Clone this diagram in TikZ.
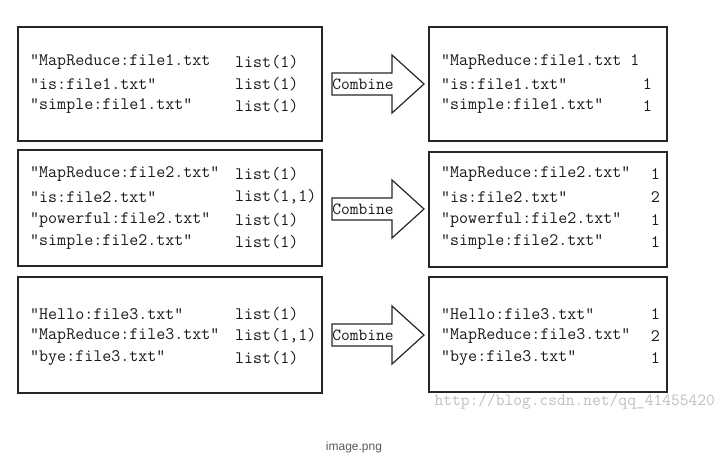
\documentclass[tikz,border=0pt]{standalone}
\usepackage{fontspec}
\setmainfont{Liberation Serif}
\newfontfamily\monof{Latin Modern Mono}
\newfontfamily\sansf{Liberation Sans}
\usetikzlibrary{shapes.arrows}
\begin{document}
\begin{tikzpicture}[x=1pt,y=-1pt,
  box/.style={draw=black!85,line width=1.6pt},
  txt/.style={anchor=west,inner sep=0pt,font=\monof\fontsize{17.5}{20}\selectfont,text=black!90},
  num/.style={anchor=east,inner sep=0pt,font=\monof\fontsize{17.5}{20}\selectfont,text=black!90},
  arr/.style={draw=black!85,line width=1.2pt,fill=white}]
\useasboundingbox (0,0) rectangle (718,467);
% boxes
\draw[box] (18,27) rectangle (322,141) coordinate (L1);
\draw[box] (18,150) rectangle (322,266) coordinate (L2);
\draw[box] (18,277) rectangle (322,393) coordinate (L3);
\draw[box] (429,27) rectangle (667,141) coordinate (R1);
\draw[box] (429,152) rectangle (667,267) coordinate (R2);
\draw[box] (429,277) rectangle (667,392) coordinate (R3);
% arrows
\foreach \c/\n in {84/a1,209/a2,335/a3}{
  \draw[arr] (332,\c-11) -- (392,\c-11) -- (392,\c-29) -- (424,\c) -- (392,\c+29) -- (392,\c+11) -- (332,\c+11) -- cycle;
  \node[font=\monof\fontsize{17}{18}\selectfont,text=black!90,inner sep=0pt] (\n) at (363,\c) {Combine};
}
% row1
\node[txt] (t11) at (30,62) {“MapReduce:file1.txt};
\node[txt] (t12) at (30,84) {“is:file1.txt”};
\node[txt] (t13) at (30,106) {“simple:file1.txt”};
\foreach \y/\n in {62/l11,84/l12,106/l13} \node[txt] (\n) at (235,\y) {list(1)};
\node[txt] (r11) at (441,62) {“MapReduce:file1.txt 1};
\node[txt] (r12) at (441,84) {“is:file1.txt”};
\node[txt] (r13) at (441,106) {“simple:file1.txt”};
\node[num] (n12) at (652,84) {1};
\node[num] (n13) at (652,106) {1};
% row2
\node[txt] (t21) at (30,174) {“MapReduce:file2.txt”};
\node[txt] (t22) at (30,197) {“is:file2.txt”};
\node[txt] (t23) at (30,220) {“powerful:file2.txt”};
\node[txt] (t24) at (30,242) {“simple:file2.txt”};
\node[txt] (l21) at (235,174) {list(1)};
\node[txt] (l22) at (235,197) {list(1,1)};
\node[txt] (l23) at (235,220) {list(1)};
\node[txt] (l24) at (235,242) {list(1)};
\node[txt] (r21) at (441,174) {“MapReduce:file2.txt”};
\node[txt] (r22) at (441,197) {“is:file2.txt”};
\node[txt] (r23) at (441,220) {“powerful:file2.txt”};
\node[txt] (r24) at (441,242) {“simple:file2.txt”};
\node[num] (n21) at (660,174) {1};
\node[num] (n22) at (660,197) {2};
\node[num] (n23) at (660,220) {1};
\node[num] (n24) at (660,242) {1};
% row3
\node[txt] (t31) at (30,314) {“Hello:file3.txt”};
\node[txt] (t32) at (30,336) {“MapReduce:file3.txt”};
\node[txt] (t33) at (30,358) {“bye:file3.txt”};
\node[txt] (l31) at (235,314) {list(1)};
\node[txt] (l32) at (235,336) {list(1,1)};
\node[txt] (l33) at (235,358) {list(1)};
\node[txt] (r31) at (441,314) {“Hello:file3.txt”};
\node[txt] (r32) at (441,336) {“MapReduce:file3.txt”};
\node[txt] (r33) at (441,358) {“bye:file3.txt”};
\node[num] (n31) at (660,314) {1};
\node[num] (n32) at (660,336) {2};
\node[num] (n33) at (660,358) {1};
% watermark and caption
\node[anchor=east,inner sep=0pt,font=\monof\fontsize{17}{19}\selectfont,text=black!25] (wm) at (715,402) {http://blog.csdn.net/qq\_41455420};
\node[inner sep=0pt,font=\sansf\fontsize{12}{14}\selectfont,text=black!65] (cap) at (354,447) {image.png};
\end{tikzpicture}
\end{document}
